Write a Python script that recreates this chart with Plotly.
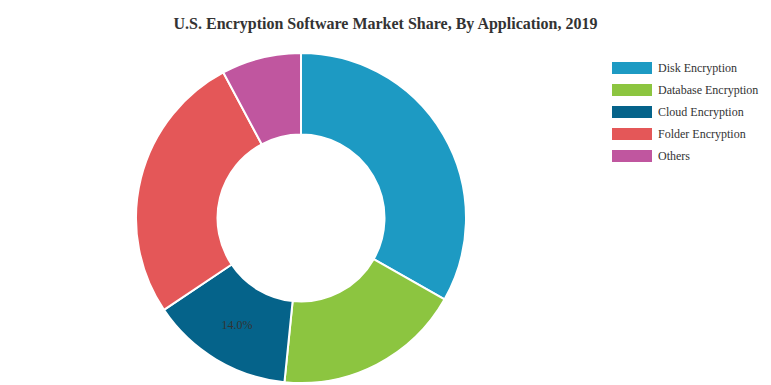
import plotly.graph_objects as go

categories = ["Disk Encryption", "Database Encryption", "Cloud Encryption", "Folder Encryption", "Others"]
shares = [33.2, 18.4, 14.0, 26.6, 7.8]
colors = ["#1d9ac3", "#8cc540", "#05638a", "#e45758", "#c0569f"]
shown_labels = [False, False, True, False, False]

W, H = 771, 385
FONT = "Liberation Serif, Times New Roman, serif"

texts = [f"{v:.1f}%" if s else "" for v, s in zip(shares, shown_labels)]

fig = go.Figure(go.Pie(
    labels=categories,
    values=shares,
    text=texts,
    textinfo="text",
    textposition="inside",
    insidetextorientation="horizontal",
    textfont=dict(family=FONT, size=12, color="#333333"),
    marker=dict(colors=colors, line=dict(color="#ffffff", width=2)),
    hole=0.506,
    sort=False,
    direction="clockwise",
    rotation=0,
    showlegend=False,
    domain=dict(x=[136 / W, 466 / W], y=[1 - 383 / H, 1 - 53 / H]),
    hoverinfo="label+percent",
))

shapes = []
annotations = []
x0, sw_w, sw_h = 612, 40, 12
y_first, step = 68, 22
for i, (cat, col) in enumerate(zip(categories, colors)):
    yc = y_first + i * step
    shapes.append(dict(
        type="rect", xref="paper", yref="paper",
        x0=x0 / W, x1=(x0 + sw_w) / W,
        y0=1 - (yc + sw_h / 2) / H, y1=1 - (yc - sw_h / 2) / H,
        fillcolor=col, line=dict(width=0),
    ))
    annotations.append(dict(
        text=cat, xref="paper", yref="paper",
        x=(x0 + sw_w + 4) / W, y=1 - yc / H,
        xanchor="left", yanchor="middle", showarrow=False,
        font=dict(family=FONT, size=12, color="#333333"),
    ))

fig.update_layout(
    width=W, height=H,
    margin=dict(l=0, r=0, t=0, b=0),
    paper_bgcolor="#ffffff",
    plot_bgcolor="#ffffff",
    title=dict(
        text="<b>U.S. Encryption Software Market Share, By Application, 2019</b>",
        x=0.5, xanchor="center", y=1 - 23 / H, yanchor="middle",
        font=dict(family=FONT, size=16, color="#333333"),
    ),
    shapes=shapes,
    annotations=annotations,
)

fig.write_html("out.html")
